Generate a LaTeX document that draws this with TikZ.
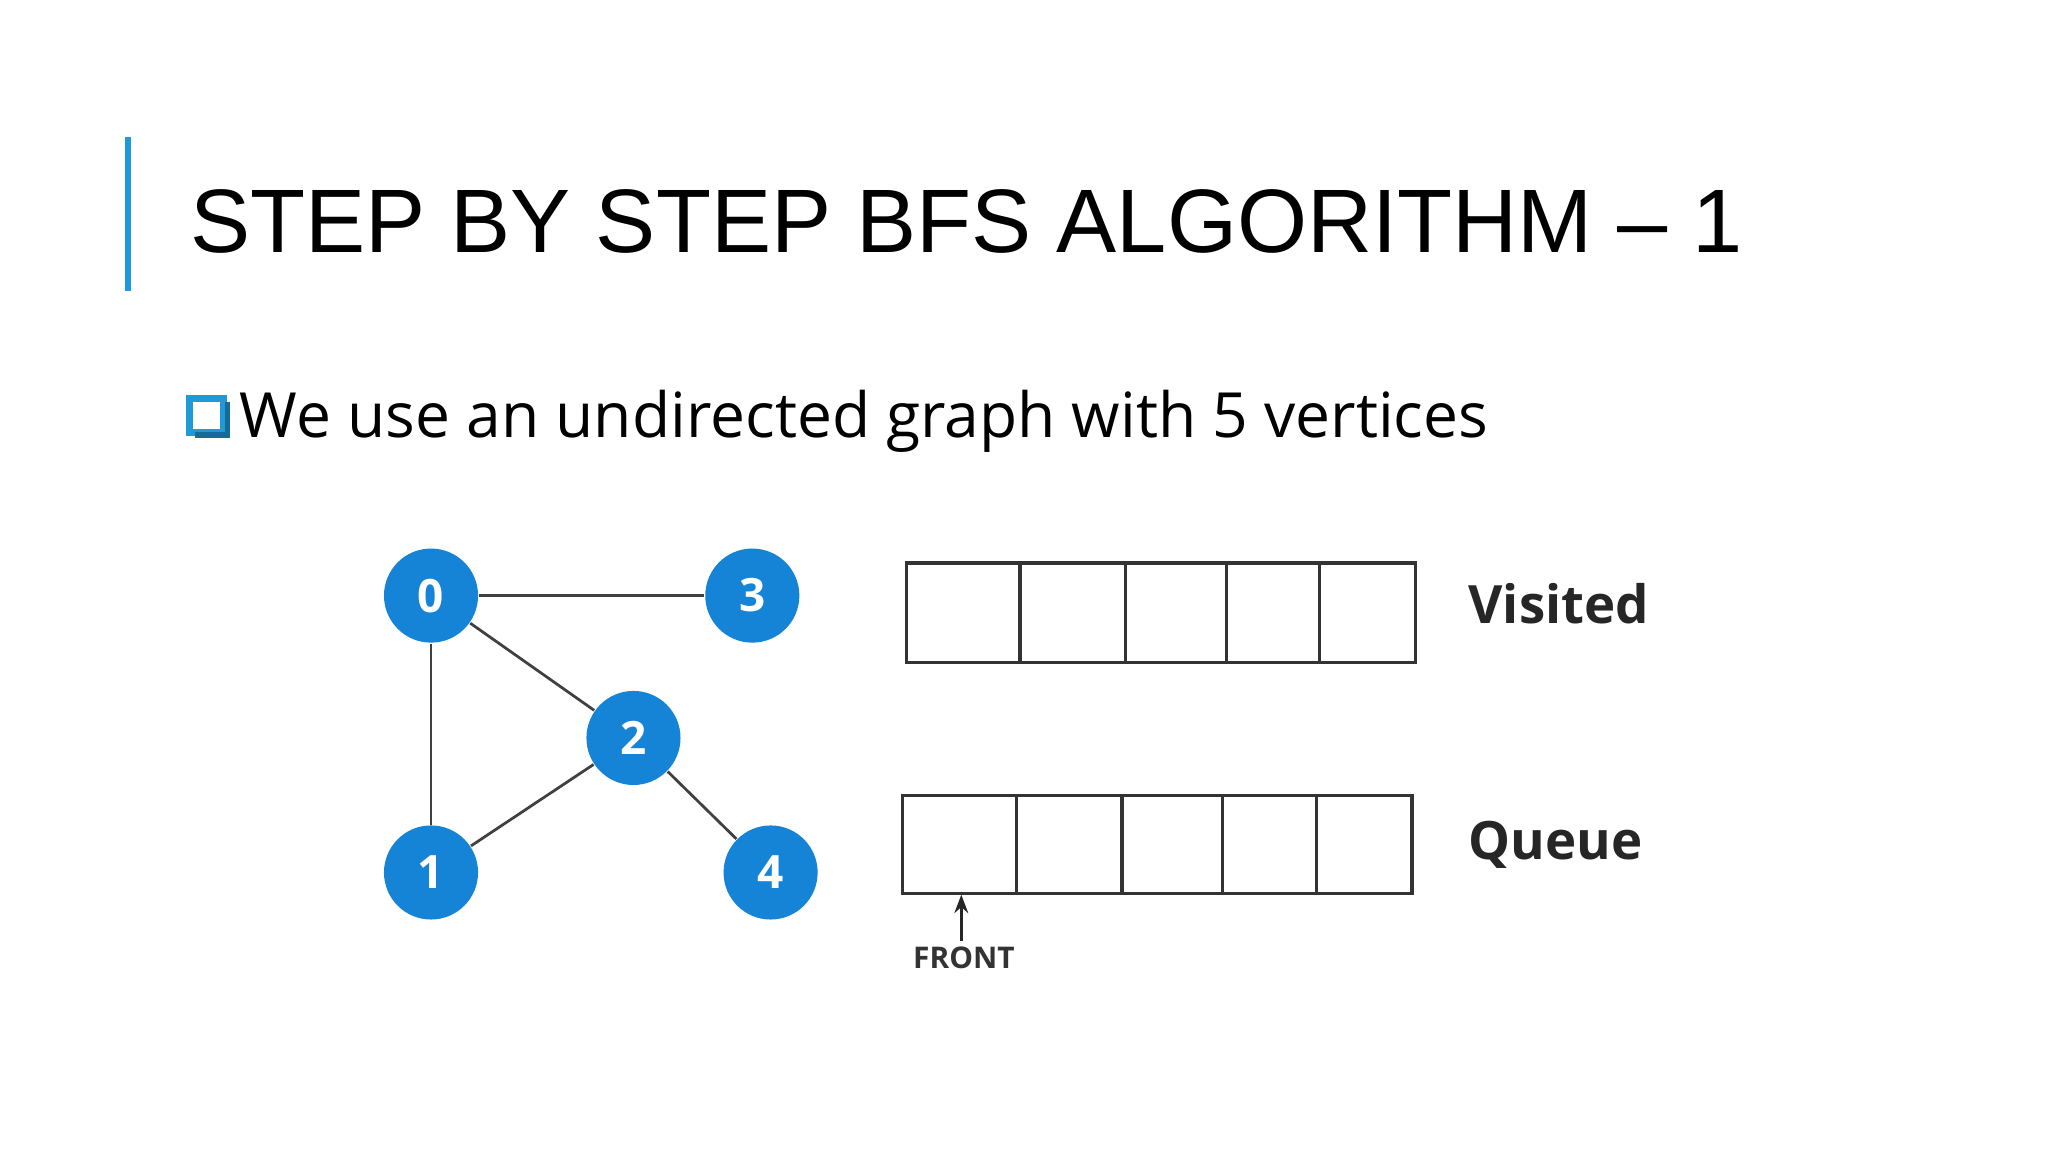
\documentclass[tikz,border=0pt]{standalone}
\usepackage{fontspec}
\setmainfont{Open Sans}
\newfontfamily\titlefont{Liberation Sans}
\usetikzlibrary{arrows.meta}
\definecolor{vblue}{HTML}{1583D6}
\definecolor{lblue}{HTML}{1E9AD8}
\tikzset{
  vtx/.style={circle,fill=vblue,minimum size=0.72cm,inner sep=0pt,text=white,font=\bfseries\fontsize{10}{12}\selectfont},
  edge/.style={draw=black!75,line width=0.6pt},
  cellbox/.style={draw=black!80,line width=0.7pt},
  lbl/.style={anchor=west,font=\fontsize{11.5}{13}\selectfont\bfseries,text=black!85}
}
\begin{document}
\begin{tikzpicture}[x=0.01cm,y=-0.01cm]
\useasboundingbox (0,0) rectangle (1568,882);
\fill[white] (0,0) rectangle (1568,882);
\draw[lblue,line width=1.2pt] (98,105) -- (98,223);
\node[anchor=base west,inner sep=0pt] (title) at (145,193) {\resizebox{11.88cm}{!}{\titlefont\fontsize{24.6}{28}\selectfont STEP BY STEP BFS ALGORITHM – 1}};
\draw[lblue,line width=1.6pt] (145,305) rectangle (171,331);
\draw[lblue!70!black,line width=1.2pt] (149,333) -- (174,333) -- (174,308);
\node[anchor=base west,inner sep=0pt] (bullet) at (183,335) {\resizebox{9.55cm}{!}{\fontsize{14.7}{17}\selectfont We use an undirected graph with 5 vertices}};
\node[vtx] (v0) at (330,456) {0};
\node[vtx] (v3) at (576,456) {3};
\node[vtx] (v2) at (485,565) {2};
\node[vtx] (v1) at (330,668) {1};
\node[vtx] (v4) at (590,668) {4};
\draw[edge] (v0) -- (v3);
\draw[edge] (v0) -- (v2);
\draw[edge] (v0) -- (v1);
\draw[edge] (v1) -- (v2);
\draw[edge] (v2) -- (v4);
\foreach \a/\b [count=\i] in {694/781,781/862,862/939,939/1010,1010/1084}
  \draw[cellbox] (\a,431) rectangle (\b,507);
\foreach \a/\b [count=\i] in {691/778,778/859,859/936,936/1008,1008/1081}
  \draw[cellbox] (\a,609) rectangle (\b,684);
\coordinate (q0) at (736,685);
\node[lbl] (vis) at (1112,462) {Visited};
\node[lbl] (que) at (1112,647) {Queue};
\node[font=\fontsize{6.5}{8}\selectfont\bfseries,text=black!80,inner sep=1pt] (front) at (738,733) {FRONT};
\draw[-{Stealth[length=4pt]},black!85,line width=0.6pt] (front.north -| q0) -- (q0);
\end{tikzpicture}
\end{document}
